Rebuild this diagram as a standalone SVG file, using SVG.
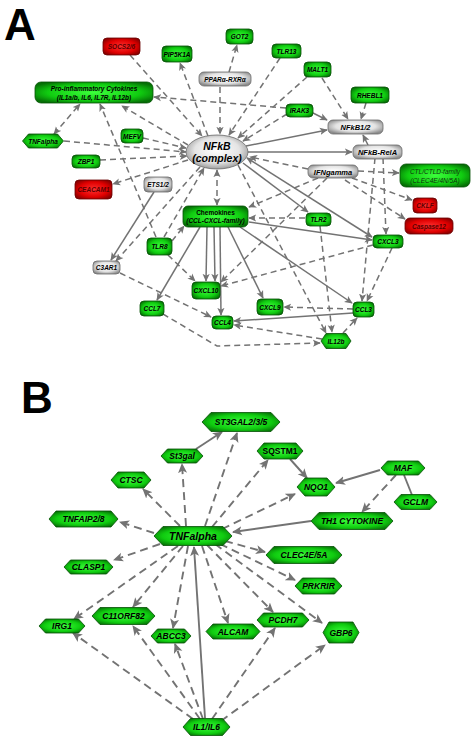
<svg xmlns="http://www.w3.org/2000/svg" width="474" height="739" viewBox="0 0 474 739">
<defs>
<radialGradient id="gG" cx="50%" cy="50%" r="60%">
<stop offset="0%" stop-color="#3cff3c"/><stop offset="65%" stop-color="#10cc10"/><stop offset="100%" stop-color="#067006"/>
</radialGradient>
<radialGradient id="gR" cx="50%" cy="50%" r="60%">
<stop offset="0%" stop-color="#ff3030"/><stop offset="65%" stop-color="#e00000"/><stop offset="100%" stop-color="#8a0000"/>
</radialGradient>
<radialGradient id="gY" cx="50%" cy="45%" r="60%">
<stop offset="0%" stop-color="#ffffff"/><stop offset="60%" stop-color="#e4e4e4"/><stop offset="100%" stop-color="#8c8c8c"/>
</radialGradient>
<marker id="ah" viewBox="0 0 10 10" refX="9" refY="5" markerWidth="8" markerHeight="8" markerUnits="userSpaceOnUse" orient="auto-start-reverse">
<path d="M0,0.5 L10,5 L0,9.5 L2.5,5 z" fill="#737373"/>
</marker>
<marker id="ahB" viewBox="0 0 10 10" refX="9" refY="5" markerWidth="10" markerHeight="10" markerUnits="userSpaceOnUse" orient="auto-start-reverse">
<path d="M0,0.5 L10,5 L0,9.5 L2.5,5 z" fill="#737373"/>
</marker>
<style>
.g{fill:url(#gG);stroke:#055205;stroke-width:0.8}
.r{fill:url(#gR);stroke:#6a0000;stroke-width:0.8}
.y{fill:url(#gY);stroke:#6a6a6a;stroke-width:0.8}
text{font-family:"Liberation Sans",Arial,sans-serif;font-weight:bold;font-style:italic;text-anchor:middle;fill:#000}
.a{font-size:6.5px}
.ay{font-size:7.5px}
.ar{font-size:6.5px;fill:#5a0000}
.b{font-size:8.5px}
.big{font-size:44px;font-style:normal;text-anchor:start}
.e line,.e path,.e polyline{stroke:#737373;stroke-width:1.5;fill:none;marker-end:url(#ah)}
.e .d{stroke-dasharray:6 4}
.e .bi{marker-start:url(#ah)}
.e .nm{marker-end:none}
#edgesB line{stroke-width:1.9;marker-end:url(#ahB)}
#edgesB .d{stroke-dasharray:8 5}
#edgesB .nm{marker-end:none}
</style>
</defs>
<rect width="474" height="739" fill="#fff"/>
<text class="big" x="4" y="40">A</text>
<text class="big" x="21" y="413">B</text>

<g id="edgesA" class="e">
<line class="d" x1="130" y1="55" x2="202" y2="136"/>
<line class="d" x1="208" y1="136" x2="180" y2="63"/>
<line class="d" x1="220" y1="87" x2="220" y2="134"/>
<line class="d" x1="229" y1="72" x2="237" y2="45"/>
<line class="d" x1="280" y1="58" x2="229" y2="135"/>
<line class="d" x1="307" y1="77" x2="238" y2="138"/>
<line class="d" x1="322" y1="78" x2="348" y2="119"/>
<line class="d" x1="366" y1="103" x2="361" y2="119"/>
<line x1="313" y1="113" x2="327" y2="120"/>
<line class="d" x1="287" y1="114" x2="243" y2="141"/>
<line class="d" x1="286" y1="108" x2="154" y2="97"/>
<line class="d" x1="188" y1="145" x2="122" y2="106"/>
<line class="d bi" x1="54" y1="134" x2="80" y2="104"/>
<line class="d" x1="156" y1="237" x2="100" y2="104"/>
<line class="d" x1="143" y1="138" x2="186" y2="148"/>
<line class="d" x1="64" y1="141" x2="186" y2="152"/>
<line class="d" x1="100" y1="160" x2="187" y2="156"/>
<line class="d" x1="188" y1="160" x2="113" y2="184"/>
<line x1="154" y1="192" x2="111" y2="260"/>
<line class="d" x1="200" y1="167" x2="116" y2="261"/>
<line class="d" x1="164" y1="237" x2="204" y2="168"/>
<line class="d bi" x1="217" y1="170" x2="217" y2="205"/>
<line class="d" x1="172" y1="241" x2="184" y2="226"/>
<line x1="246" y1="146" x2="327" y2="130"/>
<line x1="248" y1="152" x2="352" y2="152"/>
<line x1="368" y1="145" x2="363" y2="135"/>
<line class="d" x1="308" y1="169" x2="250" y2="157"/>
<line class="d" x1="358" y1="171" x2="399" y2="173"/>
<line class="d" x1="352" y1="178" x2="412" y2="200"/>
<line class="d" x1="345" y1="180" x2="405" y2="219"/>
<line class="d" x1="318" y1="178" x2="249" y2="207"/>
<line class="d" x1="327" y1="178" x2="221" y2="282"/>
<line class="d" x1="305" y1="218" x2="249" y2="218"/>
<line x1="243" y1="163" x2="308" y2="212"/>
<line class="bi" x1="247" y1="158" x2="372" y2="237"/>
<line x1="249" y1="222" x2="372" y2="240"/>
<line class="d" x1="383" y1="158" x2="386" y2="234"/>
<line class="d" x1="375" y1="158" x2="362" y2="301"/>
<line class="d" x1="392" y1="248" x2="367" y2="301"/>
<line class="d" x1="373" y1="245" x2="221" y2="286"/>
<line class="d" x1="320" y1="226" x2="332" y2="332"/>
<line x1="200" y1="227" x2="157" y2="300"/>
<line x1="207" y1="227" x2="206" y2="281"/>
<line x1="214" y1="227" x2="215" y2="281"/>
<line x1="220" y1="227" x2="221" y2="315"/>
<line x1="228" y1="227" x2="263" y2="298"/>
<line x1="240" y1="227" x2="352" y2="303"/>
<line class="d" x1="168" y1="255" x2="195" y2="281"/>
<line class="d" x1="120" y1="273" x2="211" y2="317"/>
<line class="d" x1="353" y1="309" x2="284" y2="307"/>
<line x1="353" y1="313" x2="234" y2="321"/>
<line class="d" x1="322" y1="339" x2="234" y2="325"/>
<polyline class="d" points="163,314 217,346 320,343"/>
<line class="d" x1="343" y1="333" x2="357" y2="318"/>
<line class="d" x1="238" y1="165" x2="326" y2="333"/>
</g>

<g id="SOCS2-6"><rect class="r" x="103" y="38" width="37" height="17" rx="4"/><text class="ar" x="121.5" y="49">SOCS2/6</text></g>
<g id="PIP5K1A"><rect class="g" x="162" y="46" width="30" height="16" rx="4"/><text class="a" x="177" y="56.5">PIP5K1A</text></g>
<g id="GOT2"><rect class="g" x="226" y="29" width="27" height="15" rx="4"/><text class="a" x="239.5" y="39">GOT2</text></g>
<g id="TLR13"><rect class="g" x="272" y="44" width="29" height="14" rx="4"/><text class="a" x="286.5" y="53.5">TLR13</text></g>
<g id="MALT1"><rect class="g" x="304" y="62" width="27" height="15" rx="4"/><text class="a" x="317.5" y="72">MALT1</text></g>
<g id="RHEBL1"><rect class="g" x="351" y="87" width="38" height="16" rx="4"/><text class="a" x="370" y="97.5">RHEBL1</text></g>
<g id="IRAK3"><rect class="g" x="286" y="104" width="27" height="13" rx="4"/><text class="a" x="299.5" y="113">IRAK3</text></g>
<g id="NFkB1-2"><rect class="y" x="328" y="120" width="55" height="14" rx="5"/><text class="ay" x="355.5" y="130">NFkB1/2</text></g>
<g id="PPAR-RXR"><rect class="y" x="199" y="72" width="52" height="14" rx="5"/><text class="a" x="225" y="81.5">PPARα-RXRα</text></g>
<g id="ProInflammatory"><rect class="g" x="35" y="82" width="118" height="21" rx="6"/><text class="a" x="94" y="91">Pro-inflammatory Cytokines</text><text class="a" x="94" y="99.5">(IL1a/b, IL6, IL7R, IL12b)</text></g>
<g id="TNFalphaA"><polygon class="g" points="22.5,141 28.5,134 57.5,134 63.5,141 57.5,148 28.5,148"/><text class="a" x="43" y="143.5">TNFalpha</text></g>
<g id="MEFV"><rect class="g" x="121" y="129" width="22" height="14" rx="4"/><text class="a" x="132" y="138.5">MEFV</text></g>
<g id="ZBP1"><rect class="g" x="72" y="155" width="28" height="13" rx="4"/><text class="a" x="86" y="164">ZBP1</text></g>
<g id="CEACAM1"><rect class="r" x="75" y="180" width="37" height="19" rx="4"/><text class="ar" x="93.5" y="192">CEACAM1</text></g>
<g id="ETS1-2"><rect class="y" x="144" y="177" width="28" height="15" rx="4"/><text class="a" x="158" y="187">ETS1/2</text></g>
<g id="NFkB"><ellipse class="y" cx="217" cy="152" rx="31" ry="17"/><text x="217" y="150" style="font-size:10.5px">NFkB</text><text x="217" y="162" style="font-size:10.5px">(complex)</text></g>
<g id="NFkB-RelA"><rect class="y" x="353" y="145" width="49" height="14" rx="5"/><text class="ay" x="377.5" y="155">NFkB-RelA</text></g>
<g id="IFNgamma"><rect class="y" x="308" y="165" width="50" height="13" rx="5"/><text class="ay" x="333" y="174.5">IFNgamma</text></g>
<g id="CTL-CTLD"><rect class="g" x="400" y="164" width="70" height="23" rx="6"/><text class="a" x="435" y="174" style="font-weight:normal;fill:#103010">CTL/CTLD-family</text><text class="a" x="435" y="182.5" style="font-weight:normal;fill:#103010">(CLEC4E/4N/5A)</text></g>
<g id="CKLF"><rect class="r" x="413" y="198" width="24" height="15" rx="4"/><text class="ar" x="425" y="208">CKLF</text></g>
<g id="Caspase12"><rect class="r" x="405" y="218" width="48" height="16" rx="5"/><text class="ar" x="429" y="228.5">Caspase12</text></g>
<g id="Chemokines"><rect class="g" x="183" y="206" width="65" height="21" rx="5"/><text class="a" x="215.5" y="214.5" style="font-style:normal">Chemokines</text><text class="a" x="215.5" y="223">(CCL-CXCL-family)</text></g>
<g id="TLR2"><rect class="g" x="306" y="213" width="25" height="13" rx="4"/><text class="a" x="318.5" y="222">TLR2</text></g>
<g id="CXCL3"><rect class="g" x="373" y="235" width="30" height="13" rx="4"/><text class="a" x="388" y="244">CXCL3</text></g>
<g id="TLR8"><rect class="g" x="147" y="238" width="25" height="17" rx="4"/><text class="a" x="159.5" y="249">TLR8</text></g>
<g id="C3AR1"><rect class="y" x="93" y="261" width="27" height="13" rx="4"/><text class="a" x="106.5" y="270">C3AR1</text></g>
<g id="CXCL10"><rect class="g" x="192" y="282" width="28" height="17" rx="4"/><text class="a" x="206" y="293">CXCL10</text></g>
<g id="CCL7"><rect class="g" x="140" y="301" width="24" height="15" rx="4"/><text class="a" x="152" y="311">CCL7</text></g>
<g id="CCL4"><rect class="g" x="212" y="316" width="21" height="13" rx="4"/><text class="a" x="222.5" y="325">CCL4</text></g>
<g id="CXCL9"><rect class="g" x="257" y="299" width="26" height="16" rx="4"/><text class="a" x="270" y="309.5">CXCL9</text></g>
<g id="CCL3"><rect class="g" x="353" y="302" width="21" height="15" rx="4"/><text class="a" x="363.5" y="312">CCL3</text></g>
<g id="IL12b"><polygon class="g" points="321,341 326,333.5 346,333.5 351,341 346,348.5 326,348.5"/><text class="a" x="336" y="343.5">IL12b</text></g>

<g id="edgesB" class="e">
<line x1="196" y1="449" x2="222" y2="432"/>
<line class="d" x1="186" y1="526" x2="182" y2="464"/>
<line class="d" x1="205" y1="526" x2="237" y2="433"/>
<line class="d" x1="212" y1="527" x2="268" y2="460"/>
<line x1="290" y1="459" x2="307" y2="478"/>
<line class="d" x1="222" y1="529" x2="295" y2="494"/>
<line x1="380" y1="470" x2="336" y2="483"/>
<line class="nm" x1="404" y1="475" x2="412" y2="495"/>
<line class="d" x1="396" y1="475" x2="362" y2="512"/>
<line x1="311" y1="521" x2="233" y2="532"/>
<line class="d" x1="180" y1="526" x2="143" y2="489"/>
<line class="d" x1="154" y1="533" x2="120" y2="522"/>
<line class="d" x1="160" y1="544" x2="114" y2="560"/>
<line class="d" x1="178" y1="546" x2="74" y2="619"/>
<line class="d" x1="183" y1="546" x2="133" y2="607"/>
<line class="d" x1="188" y1="546" x2="173" y2="628"/>
<line class="d" x1="202" y1="546" x2="228" y2="623"/>
<line class="d" x1="207" y1="545" x2="273" y2="612"/>
<line class="d" x1="215" y1="544" x2="322" y2="623"/>
<line class="d" x1="225" y1="541" x2="265" y2="552"/>
<line class="d" x1="220" y1="544" x2="295" y2="580"/>
<line x1="205" y1="718" x2="194" y2="547"/>
<line class="d" x1="193" y1="719" x2="73" y2="633"/>
<line class="d" x1="200" y1="719" x2="133" y2="626"/>
<line class="d" x1="203" y1="719" x2="175" y2="644"/>
<line class="d" x1="212" y1="719" x2="275" y2="628"/>
<line class="d" x1="221" y1="721" x2="325" y2="645"/>
</g>

<g id="ST3GAL2-3-5"><polygon class="g" points="202,422 211,412.5 271,412.5 280,422 271,431.5 211,431.5"/><text class="b" x="241" y="425">ST3GAL2/3/5</text></g>
<g id="St3gal"><polygon class="g" points="161,456 167.5,449 196.5,449 203,456 196.5,463 167.5,463"/><text class="b" x="182" y="459">St3gal</text></g>
<g id="SQSTM1"><polygon class="g" points="257,451 264,443 296,443 303,451 296,459 264,459"/><text class="b" x="280" y="454" style="font-style:normal">SQSTM1</text></g>
<g id="CTSC"><polygon class="g" points="111,480 118,472 144,472 151,480 144,488 118,488"/><text class="b" x="131" y="483">CTSC</text></g>
<g id="NQO1"><polygon class="g" points="297,487 305,478 327,478 335,487 327,496 305,496"/><text class="b" x="316" y="490">NQO1</text></g>
<g id="MAF"><polygon class="g" points="381,468 387.5,461 418.5,461 425,468 418.5,475 387.5,475"/><text class="b" x="403" y="471">MAF</text></g>
<g id="GCLM"><polygon class="g" points="394,502 401,494.5 430,494.5 437,502 430,509.5 401,509.5"/><text class="b" x="415.5" y="505">GCLM</text></g>
<g id="TNFAIP2-8"><polygon class="g" points="49,519 56,511 111,511 118,519 111,527 56,527"/><text class="b" x="83.5" y="522">TNFAIP2/8</text></g>
<g id="TNFalphaB"><polygon class="g" points="154,536 163,526.5 223,526.5 232,536 223,545.5 163,545.5"/><text x="193" y="540" style="font-size:10.5px">TNFalpha</text></g>
<g id="TH1CYTOKINE"><polygon class="g" points="311,521 319,512.5 385,512.5 393,521 385,529.5 319,529.5"/><text class="b" x="352" y="524">TH1 CYTOKINE</text></g>
<g id="CLASP1"><polygon class="g" points="64,567 70.5,560 106.5,560 113,567 106.5,574 70.5,574"/><text class="b" x="88.5" y="570">CLASP1</text></g>
<g id="CLEC4E-5A"><polygon class="g" points="266,555 274,546.5 334,546.5 342,555 334,563.5 274,563.5"/><text class="b" x="304" y="558">CLEC4E/5A</text></g>
<g id="PRKRIR"><polygon class="g" points="295,586 302.5,578 334.5,578 342,586 334.5,594 302.5,594"/><text class="b" x="318.5" y="589">PRKRIR</text></g>
<g id="C11ORF82"><polygon class="g" points="92,616 100,607.5 147,607.5 155,616 147,624.5 100,624.5"/><text class="b" x="123.5" y="619">C11ORF82</text></g>
<g id="IRG1"><polygon class="g" points="39,626 45.5,619 78.5,619 85,626 78.5,633 45.5,633"/><text class="b" x="62" y="629">IRG1</text></g>
<g id="ABCC3"><polygon class="g" points="151,636 157.5,629 184.5,629 191,636 184.5,643 157.5,643"/><text class="b" x="171" y="639">ABCC3</text></g>
<g id="ALCAM"><polygon class="g" points="206,631.5 213,624 253,624 260,631.5 253,639 213,639"/><text class="b" x="233" y="634.5">ALCAM</text></g>
<g id="PCDH7"><polygon class="g" points="257,620 263.5,613 302.5,613 309,620 302.5,627 263.5,627"/><text class="b" x="283" y="623">PCDH7</text></g>
<g id="GBP6"><polygon class="g" points="323,632.5 329,622 353,622 359,632.5 353,643 329,643"/><text class="b" x="341" y="635.5">GBP6</text></g>
<g id="IL1-IL6"><polygon class="g" points="183,727 190.5,718.5 222.5,718.5 230,727 222.5,735.5 190.5,735.5"/><text class="b" x="206.5" y="730">IL1/IL6</text></g>
</svg>
